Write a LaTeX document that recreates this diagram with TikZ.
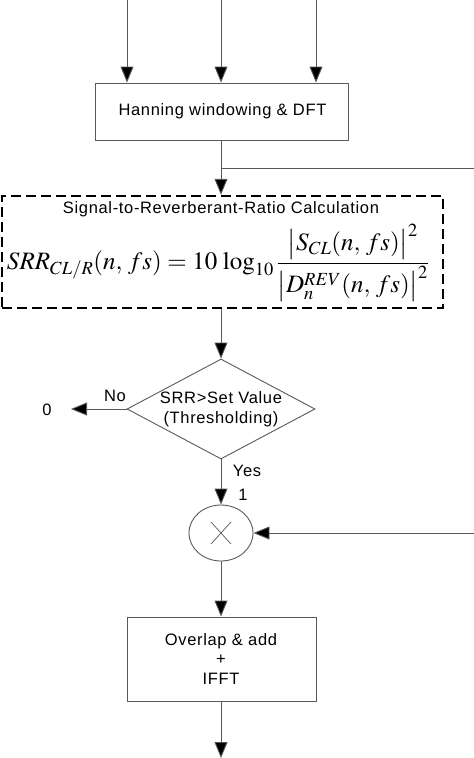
\documentclass[tikz,border=0pt]{standalone}
\usepackage{mathptmx}
\usepackage{fontspec}
\setmainfont[LetterSpace=4]{Liberation Sans}
\usetikzlibrary{arrows.meta,shapes.geometric}
\begin{document}
\begin{tikzpicture}[x=1pt,y=-1pt,
  line/.style={draw=black!65, line width=0.9pt},
  arr/.style={line, -{Triangle[length=16pt,width=13pt,fill=black]}},
  box/.style={draw=black!65, line width=0.9pt, rectangle, inner sep=0pt},
  lbl/.style={font=\fontsize{16.5}{20}\selectfont, inner sep=0pt, align=center},
  dashbox/.style={draw=black, line width=2.4pt, dash pattern=on 10pt off 5pt, rectangle, inner sep=0pt}]
\useasboundingbox (0,0) rectangle (474,758);
% top inputs
\coordinate (t1) at (127,0);
\coordinate (t2) at (221,0);
\coordinate (t3) at (316,0);
\node[box, minimum width=253pt, minimum height=57pt] (hann) at (221.5,111.5) {};
\node[lbl] (hanntxt) at (222.5,111) {Hanning windowing \& DFT};
\draw[arr] (t1) -- (t1 |- hann.north);
\draw[arr] (t2) -- (t2 |- hann.north);
\draw[arr] (t3) -- (t3 |- hann.north);
% SRR box
\node[dashbox, minimum width=441pt, minimum height=112pt] (srr) at (222.5,252) {};
\node[lbl] (srrtitle) at (221,209) {Signal-to-Reverberant-Ratio Calculation};
\node[inner sep=0pt, font=\fontsize{25}{30}\selectfont] (formula) at (218,263)
  {$\displaystyle SRR_{CL/R}(n,\,fs)=10\,\log_{10}\frac{\bigl|S_{CL}(n,\,fs)\bigr|^2}{\bigl|D_n^{REV}(n,\,fs)\bigr|^2}$};
\coordinate (br) at (221,168);
\coordinate (er) at (474,168);
\draw[arr] (hann.south -| t2) -- (srr.north -| t2);
\draw[line] (br) -- (er);
% decision
\node[diamond, draw=black!65, line width=0.9pt, minimum width=188pt, minimum height=100pt, inner sep=0pt] (dec) at (221,409) {};
\node[lbl, font=\fontsize{16.5}{20}\selectfont] (dectxt) at (221,409) {SRR>Set Value\\(Thresholding)};
\draw[arr] (srr.south -| t2) -- (dec.north);
\coordinate (zero) at (71,409);
\node[lbl] (zerotxt) at (47,410) {0};
\node[lbl] (notxt) at (115,396) {No};
\draw[arr] (dec.west) -- (zero);
% multiplier
\node[ellipse, draw=black!65, line width=0.9pt, minimum width=64pt, minimum height=56pt, inner sep=0pt] (mul) at (221,533) {};
\draw[line, line width=0.7pt] ([shift={(-10,-11)}]mul.center) -- ([shift={(10,11)}]mul.center);
\draw[line, line width=0.7pt] ([shift={(10,-11)}]mul.center) -- ([shift={(-10,11)}]mul.center);
\draw[arr] (dec.south) -- (mul.north);
\node[lbl] (yestxt) at (247,471) {Yes};
\node[lbl] (onetxt) at (243,495) {1};
\coordinate (rin) at (474,533);
\draw[arr] (rin) -- (mul.east);
% output box
\node[box, minimum width=189pt, minimum height=84pt] (ola) at (221.5,659) {};
\node[lbl, font=\fontsize{16.5}{19.5}\selectfont] (olatxt) at (221,659) {Overlap \& add\\+\\IFFT};
\draw[arr] (mul.south) -- (ola.north -| mul.south);
\coordinate (out) at (221,758);
\draw[arr] (ola.south -| out) -- (out);
\end{tikzpicture}
\end{document}
